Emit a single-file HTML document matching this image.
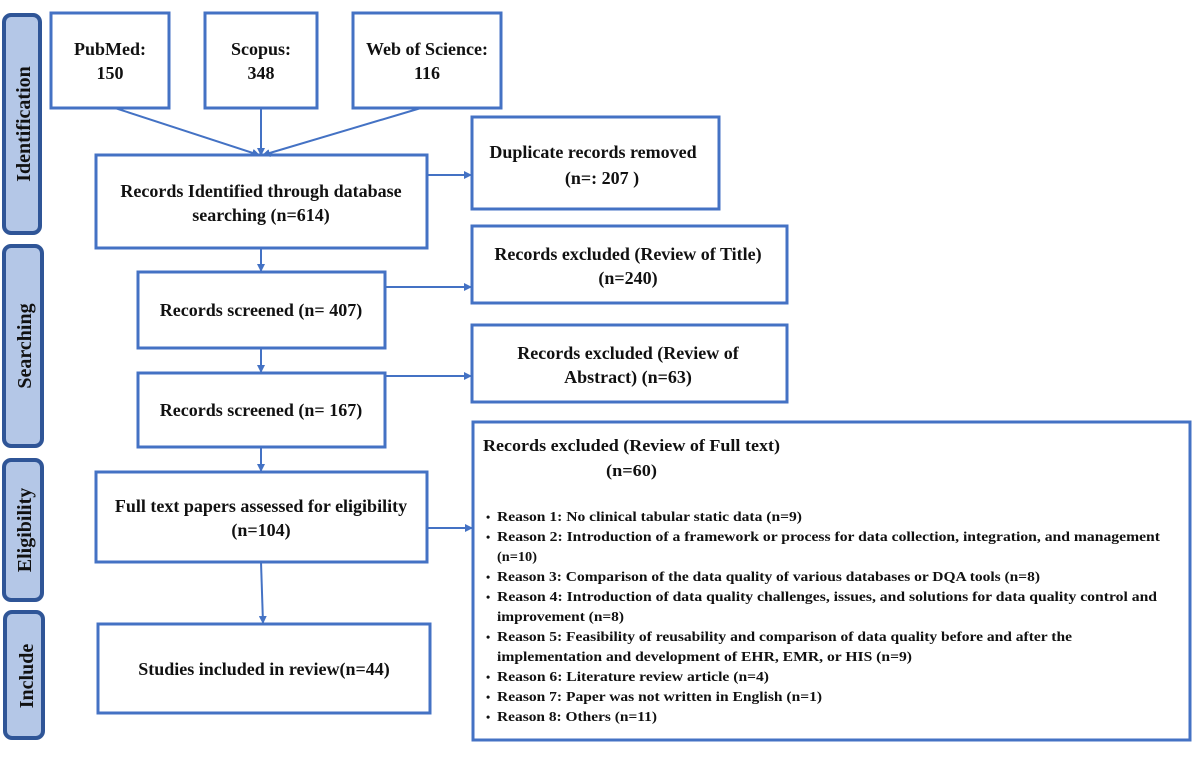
<!DOCTYPE html>
<html><head><meta charset="utf-8"><style>
html,body{margin:0;padding:0;background:#fff}
svg{display:block}
text{font-family:"Liberation Serif",serif;font-weight:bold;fill:#111}
</style></head><body>
<svg width="1200" height="770" viewBox="0 0 1200 770" xmlns="http://www.w3.org/2000/svg">
<defs><marker id="a" markerWidth="8" markerHeight="8" refX="7" refY="4" orient="auto" markerUnits="userSpaceOnUse"><path d="M0,0 L8,4 L0,8 z" fill="#4472c4"/></marker></defs>
<g fill="#b4c7e7" stroke="#2f5597" stroke-width="4">
<rect x="4" y="15" width="36" height="218" rx="7"/>
<rect x="4" y="246" width="38" height="200" rx="7"/>
<rect x="4" y="460" width="38" height="140" rx="7"/>
<rect x="5" y="612" width="38" height="126" rx="7"/>
</g>
<g font-size="20">
<text transform="translate(30,124) rotate(-90)" text-anchor="middle">Identification</text>
<text transform="translate(31,346) rotate(-90)" text-anchor="middle">Searching</text>
<text transform="translate(31,530) rotate(-90)" text-anchor="middle">Eligibility</text>
<text transform="translate(33,676) rotate(-90)" text-anchor="middle">Include</text>
</g>
<g fill="none" stroke="#4472c4" stroke-width="3">
<rect x="51" y="13" width="118" height="95"/>
<rect x="205" y="13" width="112" height="95"/>
<rect x="353" y="13" width="148" height="95"/>
<rect x="96" y="155" width="331" height="93"/>
<rect x="472" y="117" width="247" height="92"/>
<rect x="472" y="226" width="315" height="77"/>
<rect x="472" y="325" width="315" height="77"/>
<rect x="138" y="272" width="247" height="76"/>
<rect x="138" y="373" width="247" height="74"/>
<rect x="96" y="472" width="331" height="90"/>
<rect x="98" y="624" width="332" height="89"/>
<rect x="473" y="422" width="717" height="318"/>
</g>
<g stroke="#4472c4" stroke-width="2" fill="none" marker-end="url(#a)">
<line x1="115" y1="108" x2="259" y2="155"/>
<line x1="261" y1="108" x2="261" y2="155"/>
<line x1="421" y1="108" x2="263" y2="155"/>
<line x1="427" y1="175" x2="471" y2="175"/>
<line x1="261" y1="248" x2="261" y2="271"/>
<line x1="385" y1="287" x2="471" y2="287"/>
<line x1="261" y1="348" x2="261" y2="372"/>
<line x1="385" y1="376" x2="471" y2="376"/>
<line x1="261" y1="447" x2="261" y2="471"/>
<line x1="427" y1="528" x2="472" y2="528"/>
<line x1="261" y1="562" x2="263" y2="623"/>
</g>
<g font-size="18" text-anchor="middle">
<text x="110" y="55">PubMed:</text><text x="110" y="79">150</text>
<text x="261" y="55">Scopus:</text><text x="261" y="79">348</text>
<text x="427" y="55">Web of Science:</text><text x="427" y="79">116</text>
<text x="261" y="197">Records Identified through database</text>
<text x="261" y="221">searching  (n=614)</text>
<text x="593" y="158">Duplicate records removed</text>
<text x="602" y="184">(n=: 207 )</text>
<text x="628" y="260">Records excluded (Review of Title)</text>
<text x="628" y="284">(n=240)</text>
<text x="628" y="359">Records excluded (Review of</text>
<text x="628" y="383">Abstract) (n=63)</text>
<text x="261" y="316">Records screened (n= 407)</text>
<text x="261" y="416">Records screened (n= 167)</text>
<text x="261" y="512">Full text papers assessed for eligibility</text>
<text x="261" y="536">(n=104)</text>
<text x="264" y="675">Studies included in review(n=44)</text>
</g>
<g font-size="17">
<text x="483" y="451" textLength="297" lengthAdjust="spacingAndGlyphs">Records excluded (Review of Full text)</text>
<text x="606" y="476" textLength="51" lengthAdjust="spacingAndGlyphs">(n=60)</text>
</g>
<g font-size="14">
<g font-size="12"><text x="486" y="521">•</text><text x="486" y="541">•</text><text x="486" y="581">•</text><text x="486" y="601">•</text><text x="486" y="641">•</text><text x="486" y="681">•</text><text x="486" y="701">•</text><text x="486" y="721">•</text></g>
<text x="497" y="521" textLength="305" lengthAdjust="spacingAndGlyphs">Reason 1: No clinical  tabular  static data (n=9)</text>
<text x="497" y="541" textLength="663" lengthAdjust="spacingAndGlyphs">Reason 2: Introduction  of a framework  or process for data collection, integration,  and management</text>
<text x="497" y="561" textLength="40" lengthAdjust="spacingAndGlyphs">(n=10)</text>
<text x="497" y="581" textLength="543" lengthAdjust="spacingAndGlyphs">Reason 3: Comparison  of the data quality of various databases or DQA tools (n=8)</text>
<text x="497" y="601" textLength="660" lengthAdjust="spacingAndGlyphs">Reason 4: Introduction  of data quality challenges, issues, and solutions for data quality control and</text>
<text x="497" y="621" textLength="127" lengthAdjust="spacingAndGlyphs">improvement  (n=8)</text>
<text x="497" y="641" textLength="575" lengthAdjust="spacingAndGlyphs">Reason 5: Feasibility of reusability and comparison of data quality before and after the</text>
<text x="497" y="661" textLength="415" lengthAdjust="spacingAndGlyphs">implementation  and development of EHR, EMR, or HIS (n=9)</text>
<text x="497" y="681" textLength="272" lengthAdjust="spacingAndGlyphs">Reason 6: Literature review article (n=4)</text>
<text x="497" y="701" textLength="325" lengthAdjust="spacingAndGlyphs">Reason 7: Paper was not written in English (n=1)</text>
<text x="497" y="721" textLength="160" lengthAdjust="spacingAndGlyphs">Reason 8: Others (n=11)</text>
</g>
</svg>
</body></html>
